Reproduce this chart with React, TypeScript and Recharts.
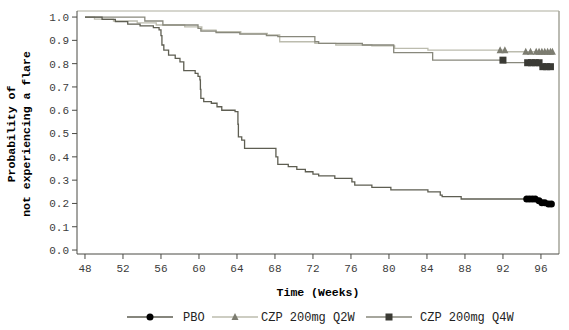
import React from 'react';
import { LineChart, Line, XAxis, YAxis, ReferenceLine } from 'recharts';

// Kaplan-Meier style step data
const PBO_WEEKS = [48, 49.8, 51.2, 52.5, 53.8, 55.2, 55.8, 56.0, 56.1, 56.3, 56.8, 57.5, 58.0, 58.4, 59.6, 59.9, 60.1, 60.15, 60.2, 60.5, 61.3, 61.9, 62.4, 63.8, 64.1, 64.15, 64.5, 64.8, 68.1, 68.3, 69.4, 70.3, 71.2, 72.0, 72.6, 74.3, 76.1, 76.4, 78.2, 80.2, 84.1, 85.4, 85.6, 87.6, 95.7, 96.0, 96.7, 97.1];
const PBO_SURV = [1.0, 0.99, 0.98, 0.97, 0.962, 0.955, 0.945, 0.92, 0.88, 0.858, 0.837, 0.823, 0.808, 0.77, 0.758, 0.745, 0.73, 0.69, 0.651, 0.637, 0.63, 0.615, 0.6, 0.594, 0.54, 0.486, 0.472, 0.436, 0.4, 0.368, 0.358, 0.346, 0.336, 0.326, 0.318, 0.308, 0.293, 0.279, 0.269, 0.258, 0.25, 0.236, 0.229, 0.219, 0.212, 0.203, 0.198, 0.198];
const PBO_CENSOR_WEEKS = [94.5, 94.8, 95.1, 95.4, 95.8, 96.1, 96.4, 96.8, 97.1];
const PBO_CENSOR_SURV = [0.219, 0.219, 0.219, 0.219, 0.212, 0.203, 0.203, 0.198, 0.198];

const Q2W_WEEKS = [48, 49, 51, 53.5, 55.5, 58.5, 60.3, 61.8, 64.4, 67.2, 68.5, 72.2, 74.4, 78.2, 80.6, 84.1, 92.2, 97.2];
const Q2W_SURV = [1.0, 0.991, 0.983, 0.975, 0.966, 0.958, 0.944, 0.937, 0.93, 0.923, 0.894, 0.887, 0.88, 0.876, 0.866, 0.858, 0.851, 0.851];
const Q2W_CENSOR_WEEKS = [91.7, 92.2, 94.4, 94.9, 95.5, 95.8, 96.1, 96.4, 96.7, 97.0, 97.2];
const Q2W_CENSOR_SURV = [0.858, 0.858, 0.851, 0.851, 0.851, 0.851, 0.851, 0.851, 0.851, 0.851, 0.851];

const Q4W_WEEKS = [48, 54.3, 56.2, 59.9, 60.2, 61.8, 64.3, 67.1, 68.3, 72.2, 72.6, 77.2, 80.5, 84.6, 92.1, 95.9, 97.1];
const Q4W_SURV = [1.0, 0.983, 0.966, 0.951, 0.94, 0.933, 0.927, 0.92, 0.916, 0.894, 0.887, 0.88, 0.847, 0.815, 0.804, 0.787, 0.787];
const Q4W_CENSOR_WEEKS = [92.0, 94.6, 95.0, 95.4, 95.8, 96.2, 96.6, 97.0];
const Q4W_CENSOR_SURV = [0.815, 0.804, 0.804, 0.804, 0.804, 0.787, 0.787, 0.787];

const WEEK_TICKS = [48, 52, 56, 60, 64, 68, 72, 76, 80, 84, 88, 92, 96];
const SURV_TICKS = [0, 0.1, 0.2, 0.3, 0.4, 0.5, 0.6, 0.7, 0.8, 0.9, 1.0];
const X_DOMAIN = [47.16, 97.9];
const Y_DOMAIN = [-0.017, 1.026];

const toRows = (weeks: number[], surv: number[]) => weeks.map((w, i) => ({ week: w, surv: surv[i] }));

const pboLine = toRows(PBO_WEEKS, PBO_SURV);
const q2wLine = toRows(Q2W_WEEKS, Q2W_SURV);
const q4wLine = toRows(Q4W_WEEKS, Q4W_SURV);
const pboCens = toRows(PBO_CENSOR_WEEKS, PBO_CENSOR_SURV);
const q2wCens = toRows(Q2W_CENSOR_WEEKS, Q2W_CENSOR_SURV);
const q4wCens = toRows(Q4W_CENSOR_WEEKS, Q4W_CENSOR_SURV);

const FONT = '"Liberation Mono", "DejaVu Sans Mono", monospace';
const PBO_COLOR = '#5e5e52';
const Q2W_COLOR = '#bcbcae';
const Q4W_COLOR = '#88887c';

const circleDot = (p: any) => <circle key={p.index} cx={p.cx} cy={p.cy} r={3.5} fill="#000" />;
const triDot = (p: any) => (
  <polygon key={p.index} points={`${p.cx - 3.5},${p.cy + 3} ${p.cx + 3.5},${p.cy + 3} ${p.cx},${p.cy - 4}`} fill="#7c7c70" />
);
const squareDot = (p: any) => <rect key={p.index} x={p.cx - 3.5} y={p.cy - 3.5} width={7} height={7} fill="#3a3a34" />;

const tickStyle = { fill: '#3c3c3c', fontSize: 11, fontFamily: FONT };

function YTitle() {
  return (
    <g fontFamily={FONT} fontWeight="bold" fontSize={11.5} fill="#000">
      <text transform="translate(15,134) rotate(-90)" textAnchor="middle">Probability of</text>
      <text transform="translate(30,134) rotate(-90)" textAnchor="middle">not experiencing a flare</text>
    </g>
  );
}

function LegendRow() {
  const item = (x: number, color: string, marker: React.ReactNode, label: string, tx: number) => (
    <g>
      <line x1={x} x2={x + 46} y1={8} y2={8} stroke={color} strokeWidth={1.5} />
      {marker}
      <text x={tx} y={12} fontFamily={FONT} fontSize={12} fill="#222">{label}</text>
    </g>
  );
  return (
    <svg width={569} height={20} style={{ position: 'absolute', left: 0, top: 309 }}>
      {item(127, PBO_COLOR, <circle cx={150} cy={8} r={3.5} fill="#000" />, 'PBO', 183)}
      {item(212, Q2W_COLOR, <polygon points="231.5,11 238.5,11 235,4" fill="#7c7c70" />, 'CZP 200mg Q2W', 261)}
      {item(366, Q4W_COLOR, <rect x={385.5} y={4.5} width={7} height={7} fill="#3a3a34" />, 'CZP 200mg Q4W', 420)}
    </svg>
  );
}

export default function App() {
  return (
    <div style={{ position: 'absolute', left: 0, top: 0, width: 569, height: 330, background: '#fff' }}>
      <LineChart width={569} height={330} margin={{ top: 11, right: 10, left: 0, bottom: 0 }}>
        <XAxis
          dataKey="week"
          type="number"
          domain={X_DOMAIN}
          ticks={WEEK_TICKS}
          allowDataOverflow
          height={76}
          tickSize={5}
          tickMargin={5}
          tick={tickStyle}
          stroke="#4a4a44"
          label={{ value: 'Time (Weeks)', position: 'insideTop', offset: 34, style: { fontFamily: FONT, fontWeight: 'bold', fontSize: 11.5, fill: '#000' } }}
        />
        <YAxis
          type="number"
          domain={Y_DOMAIN}
          ticks={SURV_TICKS}
          allowDataOverflow
          width={77}
          tickSize={5}
          tickMargin={3}
          tick={tickStyle}
          tickFormatter={(v: number) => v.toFixed(1)}
          stroke="#4a4a44"
          label={{ content: () => <YTitle /> }}
        />
        <ReferenceLine y={Y_DOMAIN[1]} stroke="#c8c8be" strokeWidth={1.5} />
        <ReferenceLine x={X_DOMAIN[1]} stroke="#a4a49a" strokeWidth={1.5} />
        <Line data={q2wLine} dataKey="surv" type="stepAfter" stroke={Q2W_COLOR} strokeWidth={1.3} dot={false} activeDot={false} isAnimationActive={false} />
        <Line data={q4wLine} dataKey="surv" type="stepAfter" stroke={Q4W_COLOR} strokeWidth={1.3} dot={false} activeDot={false} isAnimationActive={false} />
        <Line data={pboLine} dataKey="surv" type="stepAfter" stroke={PBO_COLOR} strokeWidth={1.3} dot={false} activeDot={false} isAnimationActive={false} />
        <Line data={q2wCens} dataKey="surv" stroke="none" dot={triDot} activeDot={false} isAnimationActive={false} />
        <Line data={q4wCens} dataKey="surv" stroke="none" dot={squareDot} activeDot={false} isAnimationActive={false} />
        <Line data={pboCens} dataKey="surv" stroke="none" dot={circleDot} activeDot={false} isAnimationActive={false} />
      </LineChart>
      <LegendRow />
    </div>
  );
}
